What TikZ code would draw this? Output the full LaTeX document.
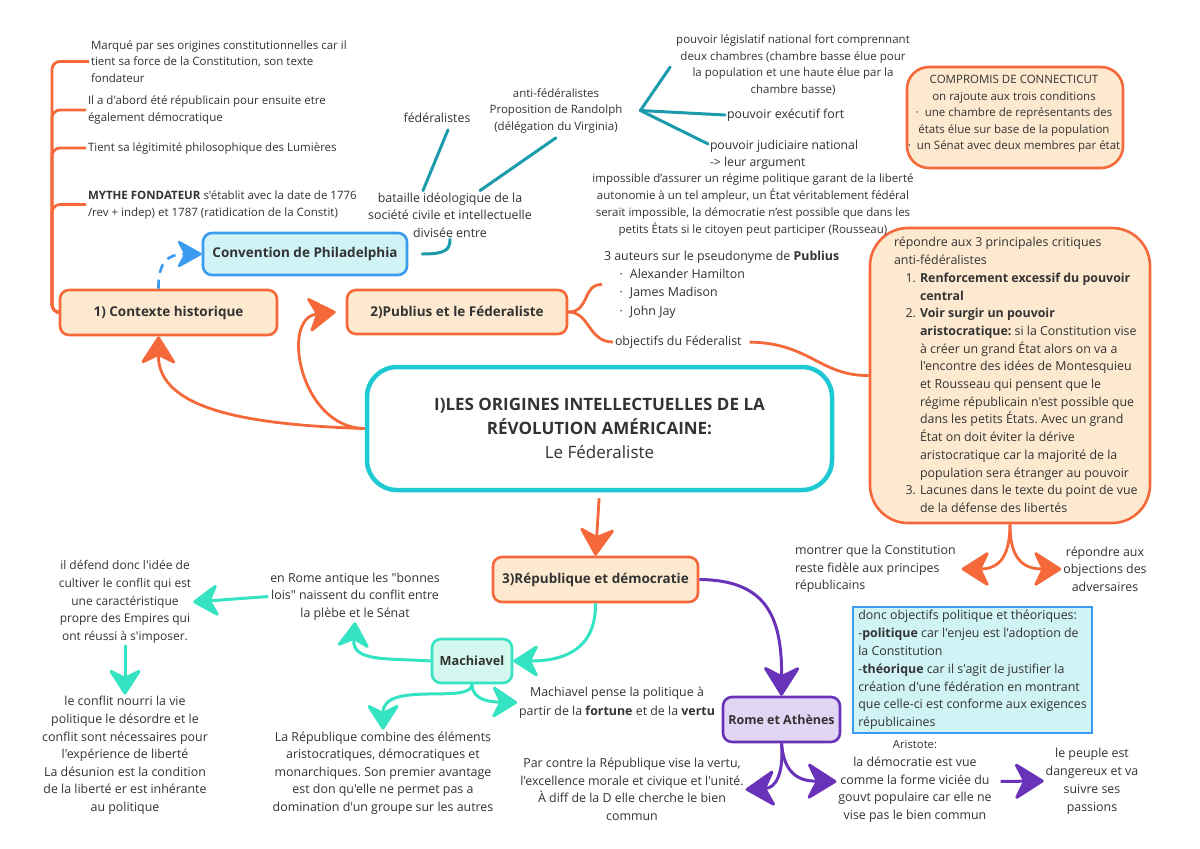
\documentclass[tikz,border=0pt]{standalone}
\usepackage{fontspec}
\setmainfont{Open Sans}[Ligatures=TeXOff]
\usetikzlibrary{arrows.meta,calc}
\definecolor{org}{HTML}{F4683A}
\definecolor{peach}{HTML}{FDE9CF}
\definecolor{cyanB}{HTML}{1FC9D3}
\definecolor{tealD}{HTML}{1B9BAB}
\definecolor{blueB}{HTML}{3A9BEF}
\definecolor{cyanF}{HTML}{D0F3F6}
\definecolor{grn}{HTML}{34E3C1}
\definecolor{grnF}{HTML}{D4F7EF}
\definecolor{purp}{HTML}{6933B9}
\definecolor{lav}{HTML}{E1D6F3}
\definecolor{txtc}{HTML}{333333}
\newcommand\bul{\makebox[26pt][r]{·\hspace{7pt}}}
\newcommand\numi[1]{\makebox[26pt][r]{#1\hspace{4pt}}}
\newcommand\myind{\hspace*{26pt}}
\frenchspacing
\begin{document}
\begin{tikzpicture}[x=1pt,y=-1pt,
  txt/.style={inner sep=0pt, outer sep=2pt, text=txtc, font=\fontsize{12.4}{17.6}\selectfont, align=center},
  txl/.style={txt, align=left},
  box/.style={draw, rounded corners=9pt, line width=2.6pt, text=txtc, font=\bfseries\fontsize{13.5}{16}\selectfont, inner sep=0pt},
  obox/.style={box, draw=org, fill=peach},
  oline/.style={draw=org, line width=2.8pt},
  tline/.style={draw=tealD, line width=3pt, line cap=round},
  oarr/.style={draw=org, line width=2.8pt, -{Stealth[length=30pt,width=38pt,inset=9pt,round]}},
  garr/.style={draw=grn, line width=3pt, -{Stealth[length=28pt,width=36pt,inset=9pt,round]}},
  parr/.style={draw=purp, line width=3pt, -{Stealth[length=32pt,width=40pt,inset=10pt,round]}}
]
\useasboundingbox (0,0) rectangle (1200,849);
\fill[white] (0,0) rectangle (1200,849);

% ---- boxes
\node[obox, minimum width=217pt, minimum height=45pt] (ctx) at (168.5,312.5) {1) Contexte historique\hspace{21pt}};
\node[box, draw=blueB, fill=cyanF, minimum width=204pt, minimum height=42pt] (conv) at (305,254) {Convention de Philadelphia};
\node[obox, minimum width=220pt, minimum height=44pt] (pub) at (457,312) {2)Publius et le Féderaliste};
\node[draw=cyanB, line width=4.5pt, fill=white, rounded corners=30pt, minimum width=465pt, minimum height=123pt, align=center, text=txtc, font=\fontsize{17}{24}\selectfont] (main) at (599.5,428.5) {\textbf{I)LES ORIGINES INTELLECTUELLES DE LA}\\\textbf{RÉVOLUTION AMÉRICAINE:}\\Le Féderaliste};
\node[obox, minimum width=205pt, minimum height=45pt] (rep) at (595.5,579.5) {3)République et démocratie};
\node[box, draw=grn, fill=grnF, minimum width=80pt, minimum height=44pt, font=\bfseries\fontsize{12.7}{15}\selectfont] (mach) at (472,661) {Machiavel};
\node[box, draw=purp, fill=lav, minimum width=117pt, minimum height=45pt, font=\bfseries\fontsize{12.5}{15}\selectfont] (rome) at (781.5,719.5) {Rome et Athènes};

\node[draw=org, fill=peach, line width=2.6pt, rounded corners=22pt, minimum width=216pt, minimum height=101pt] (conn) at (1015,117.5) {};
\node[txt, font=\fontsize{11.5}{16.5}\selectfont] (connt) at (1014,114) {COMPROMIS DE CONNECTICUT\\on rajoute aux trois conditions\\·\hspace{6pt}une chambre de représentants des\\états élue sur base de la population\\·\hspace{6pt}un Sénat avec deux membres par état};

\node[draw=org, fill=peach, line width=2.6pt, rounded corners=38pt, minimum width=280pt, minimum height=295pt] (big) at (1010,375.5) {};
\node[txl, font=\fontsize{12.4}{17.7}\selectfont, anchor=west] (bigt) at (892,375) {répondre aux 3 principales critiques\\anti-fédéralistes\\\numi{1.}\textbf{Renforcement excessif du pouvoir}\\\myind\textbf{central}\\\numi{2.}\textbf{Voir surgir un pouvoir}\\\myind\textbf{aristocratique:} si la Constitution vise\\\myind à créer un grand État alors on va a\\\myind l'encontre des idées de Montesquieu\\\myind et Rousseau qui pensent que le\\\myind régime républicain n'est possible que\\\myind dans les petits États. Avec un grand\\\myind État on doit éviter la dérive\\\myind aristocratique car la majorité de la\\\myind population sera étranger au pouvoir\\\numi{3.}Lacunes dans le texte du point de vue\\\myind de la défense des libertés};

\node[txl, draw=blueB, fill=cyanF, line width=2.6pt, minimum width=239pt, minimum height=126pt, font=\fontsize{12.4}{17.8}\selectfont] (obj2) at (972.5,670) {donc objectifs politique et théoriques:\\-\textbf{politique} car l'enjeu est l'adoption de\\la Constitution\\-\textbf{théorique} car il s'agit de justifier la\\création d'une fédération en montrant\\que celle-ci est conforme aux exigences\\républicaines};

% ---- texts
\node[txl, anchor=west, font=\fontsize{11.5}{16.5}\selectfont] (t1) at (89,61.5) {Marqué par ses origines constitutionnelles car il\\tient sa force de la Constitution, son texte\\fondateur};
\node[txl, anchor=west, font=\fontsize{11.5}{16.5}\selectfont] (t2) at (86,110) {Il a d'abord été républicain pour ensuite etre\\également démocratique};
\node[txl, anchor=west, font=\fontsize{11.5}{16.5}\selectfont] (t3) at (86,148) {Tient sa légitimité philosophique des Lumières};
\node[txl, anchor=west, font=\fontsize{11.5}{17}\selectfont] (t4) at (86,204.5) {\textbf{MYTHE FONDATEUR} s'établit avec la date de 1776\\/rev + indep) et 1787 (ratidication de la Constit)};

\node[txt] (fed) at (437,118) {fédéralistes};
\node[txt, font=\fontsize{11.5}{16.5}\selectfont] (anti) at (556,110.5) {anti-fédéralistes\\Proposition de Randolph\\(délégation du Virginia)};
\node[txt] (bat) at (450,215) {bataille idéologique de la\\société civile et intellectuelle\\divisée entre};
\node[txt, font=\fontsize{11.5}{16.5}\selectfont] (leg) at (793,65) {pouvoir législatif national fort comprennant\\deux chambres (chambre basse élue pour\\la population et une haute élue par la\\chambre basse)};
\node[txl, anchor=west] (exec) at (725,115) {pouvoir exécutif fort};
\node[txl, anchor=west, font=\fontsize{12.2}{17}\selectfont] (jud) at (708,154.5) {pouvoir judiciaire national\\-> leur argument};
\node[txt, font=\fontsize{11.5}{16.7}\selectfont] (imp) at (753,205) {impossible d’assurer un régime politique garant de la liberté\\autonomie à un tel ampleur, un État véritablement fédéral\\serait impossible, la démocratie n’est possible que dans les\\petits États si le citoyen peut participer (Rousseau)};

\node[txl, anchor=west, font=\fontsize{12.4}{18.3}\selectfont] (aut) at (602,284.5) {3 auteurs sur le pseudonyme de \textbf{Publius}\\\bul Alexander Hamilton\\\bul James Madison\\\bul John Jay};
\node[txl, anchor=west] (obj) at (613,342) {objectifs du Féderalist};

\node[txt, font=\fontsize{12}{17.6}\selectfont] (idee) at (125,602) {il défend donc l'idée de\\cultiver le conflit qui est\\une caractéristique\\propre des Empires qui\\ont réussi à s'imposer.};
\node[txt] (conf) at (125,755.5) {le conflit nourri la vie\\politique le désordre et le\\conflit sont nécessaires pour\\l'expérience de liberté\\La désunion est la condition\\de la liberté er est inhérante\\au politique};
\node[txt] (rom) at (355,596.5) {en Rome antique les "bonnes\\lois" naissent du conflit entre\\la plèbe et le Sénat};
\node[txt] (rcomb) at (383,773) {La République combine des éléments\\aristocratiques, démocratiques et\\monarchiques. Son premier avantage\\est don qu'elle ne permet pas a\\domination d'un groupe sur les autres};
\node[txt, font=\fontsize{12.4}{19}\selectfont] (mpense) at (617,702.5) {Machiavel pense la politique à\\partir de la \textbf{fortune} et de la \textbf{vertu}};
\node[txt] (parc) at (632,789.5) {Par contre la République vise la vertu,\\l'excellence morale et civique et l'unité.\\À diff de la D elle cherche le bien\\commun};
\node[txt, font=\fontsize{12.4}{17.7}\selectfont] (ari) at (915,781.5) {{\fontsize{11.3}{17.7}\selectfont Aristote:}\\la démocratie est vue\\comme la forme viciée du\\gouvt populaire car elle ne\\vise pas le bien commun};
\node[txt, font=\fontsize{12.4}{18}\selectfont] (peu) at (1092,781) {le peuple est\\dangereux et va\\suivre ses\\passions};
\node[txl, anchor=west] (mont) at (793,569) {montrer que la Constitution\\reste fidèle aux principes\\républicains};
\node[txt] (rep2) at (1105,569) {répondre aux\\objections des\\adversaires};

% ---- connectors
\coordinate (bx) at (52,0);
\foreach \t in {t1,t2,t3,t4}
  \draw[oline, rounded corners=8pt] (ctx.west) -| (bx |- \t.west) -- (\t.west);

\draw[draw=blueB, line width=2.6pt, dash pattern=on 9pt off 7pt, -{Stealth[length=27pt,width=30pt,inset=8pt,round]}] ([xshift=-10pt]ctx.north) .. controls (158,262) and (168,254) .. (conv.west);

\draw[tline, shorten <=14pt] (conv.east) .. controls (445,254) and (450,250) .. (bat.south);
\draw[tline] ([xshift=-27pt]bat.north) -- ([xshift=11pt,yshift=-5pt]fed.south);
\draw[tline] ([xshift=30pt]bat.north) -- ([yshift=-3pt]anti.south);

\coordinate (fan) at ([xshift=16pt]anti.east);
\draw[tline] (fan) -- ([xshift=-4pt,yshift=-2pt]leg.west);
\draw[tline] (fan) -- (exec.west);
\draw[tline] (fan) -- ([yshift=-6pt]jud.north west);

\draw[oline] (pub.east) .. controls (590,312) and (582,284) .. (aut.west);
\draw[oline] (pub.east) .. controls (590,312) and (588,342) .. (obj.west);
\draw[oline, shorten <=6pt] (obj.east) .. controls (810,343) and (820,376) .. (big.west);

\draw[oarr] (main.west) .. controls (250,425) and (158,410) .. ([xshift=-10pt]ctx.south);
\draw[oarr] (main.west) .. controls (300,428) and (280,318) .. ([xshift=-10pt]pub.west);
\draw[oarr, shorten <=6pt] (main.south) -- (rep.north);

\draw[garr] (rep.south) .. controls (596,645) and (570,661) .. (mach.east);
\draw[parr] (rep.east) .. controls (765,580) and (782,615) .. (rome.north);

\draw[garr] (mach.west) .. controls (385,658) and (352,662) .. (rom.south);
\draw[garr] (mach.south) .. controls (472,705) and (383,680) .. (rcomb.north);
\draw[garr] (mach.south) .. controls (472,702) and (495,702) .. (mpense.west);
\draw[garr] (rom.west) -- (idee.east);
\draw[garr] (idee.south) -- (conf.north);

\draw[parr] (rome.south) .. controls (784,775) and (775,788) .. (parc.east);
\draw[parr] (rome.south) .. controls (784,775) and (800,781) .. (ari.west);
\draw[parr, shorten <=7pt] (ari.east) -- (peu.west);

\draw[oarr, shorten >=4pt] (big.south) .. controls (1010,555) and (1000,569) .. (mont.east);
\draw[oarr] (big.south) .. controls (1010,555) and (1020,569) .. (rep2.west);
\end{tikzpicture}
\end{document}
